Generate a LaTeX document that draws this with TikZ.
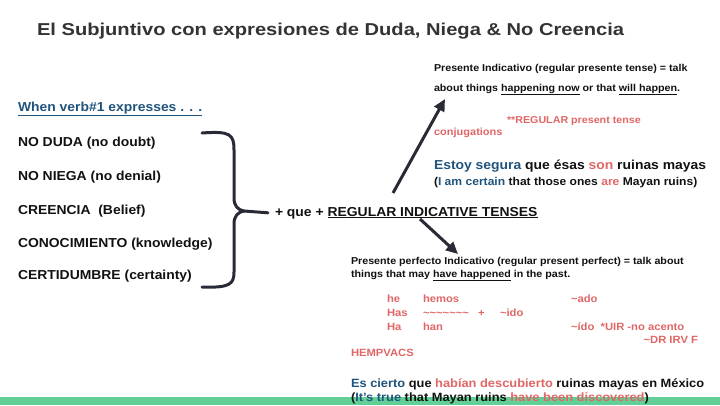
\documentclass[tikz,border=0pt]{standalone}
\usepackage{fontspec}
\setmainfont[FakeStretch=1.07]{Liberation Sans}
\newfontfamily\titlefont[FakeStretch=1.17]{Liberation Sans}
\usetikzlibrary{arrows.meta}
\definecolor{TitleGray}{RGB}{51,51,51}
\definecolor{InkBlack}{RGB}{17,17,17}
\definecolor{SlateBlue}{RGB}{32,84,125}
\definecolor{SoftRed}{RGB}{224,102,102}
\definecolor{BraceInk}{RGB}{40,42,54}
\definecolor{BarGreen}{RGB}{98,208,150}
\newcommand{\tild}{\textasciitilde}
\newcommand{\uln}[1]{\underline{#1}}

\begin{document}
\begin{tikzpicture}[x=1pt, y=-1pt,
    txt/.style={anchor=base west, inner sep=0pt, outer sep=0pt, text=InkBlack},
    item/.style={txt, font=\fontsize{13}{15}\selectfont\bfseries},
    note/.style={txt, font=\fontsize{10}{12}\selectfont\bfseries},
    conj/.style={txt, text=SoftRed, font=\fontsize{10.5}{12}\selectfont\bfseries},
    example/.style={txt, font=\fontsize{12}{14}\selectfont\bfseries},
    brace/.style={draw=BraceInk, line width=3pt, line cap=round, line join=round},
    pointer/.style={draw=BraceInk, line width=3pt, -{Triangle[width=11pt,length=12pt]}}]

  \useasboundingbox (0,0) rectangle (720,405);
  \fill[BarGreen] (0,397) rectangle (720,405);

  % title
  \node[txt, text=TitleGray, font=\titlefont\fontsize{17.2}{20}\selectfont\bfseries] (title) at (37,35)
    {El Subjuntivo con expresiones de Duda, Niega \& No Creencia};

  % presente indicativo
  \node[note] (pres) at (434,71) {Presente Indicativo (regular presente tense) = talk};
  \node[note] (pres2) at (434,91) {about things \uln{happening now} or that \uln{will happen}.};

  % left column
  \node[item, text=SlateBlue] (when) at (18,111) {\uln{When verb\#1 expresses . . .}};
  \node[item] (nodud) at (18,146) {NO DUDA (no doubt)};
  \node[item] (noneg) at (18,180) {NO NIEGA (no denial)};
  \node[item] (creen) at (18,214) {CREENCIA\ \ (Belief)};
  \node[item] (conoc) at (18,247) {CONOCIMIENTO (knowledge)};
  \node[item] (certi) at (18,279) {CERTIDUMBRE (certainty)};

  \draw[brace] (202,133) .. controls (230,131) and (234,134) .. (234,150) -- (234,198)
    .. controls (234,206) and (238,210) .. (244,211) .. controls (238,212) and (234,216) .. (234,224)
    -- (234,272) .. controls (234,284) and (230,288) .. (202,287);
  \coordinate (bracetip) at (244,211);

  \node[item] (que) at (275,216) {+ que + \uln{REGULAR INDICATIVE TENSES}};
  \draw[brace] (bracetip) -- ([xshift=-7pt]que.west);

  % regular present
  \node[note, text=SoftRed] (regnote) at (507,123) {**REGULAR present tense};
  \node[note, text=SoftRed, font=\fontsize{10.3}{12}\selectfont\bfseries] (conjug) at (434,135) {conjugations};
  \node[item] (estoy) at (434,169)
    {\textcolor{SlateBlue}{Estoy segura} que ésas \textcolor{SoftRed}{son} ruinas mayas};
  \node[txt, font=\fontsize{11.3}{13}\selectfont\bfseries] (certain) at (434,185)
    {(\textcolor{SlateBlue}{I am certain} that those ones \textcolor{SoftRed}{are} Mayan ruins)};

  % presente perfecto
  \node[note] (perf) at (351,264) {Presente perfecto Indicativo (regular present perfect) = talk about};
  \node[note] (perf2) at (351,277) {things that may \uln{have happened} in the past.};

  \node[conj] (he) at (387,302) {he};
  \node[conj] (hemos) at (423,302) {hemos};
  \node[conj] (ado) at (571,302) {\tild ado};
  \node[conj] (has) at (387,316) {Has};
  \node[conj] (tildes) at (423,316) {\tild\tild\tild\tild\tild\tild\tild};
  \node[conj] (plus) at (478,316) {+};
  \node[conj] (ido) at (500,316) {\tild ido};
  \node[conj] (ha) at (387,330) {Ha};
  \node[conj] (han) at (423,330) {han};
  \node[conj] (idoacc) at (571,330) {\tild ído\ \ *UIR -no acento};
  \node[conj, anchor=base east] (drirv) at (698,343) {\tild DR IRV F};
  \node[conj] (hemp) at (351,356) {HEMPVACS};

  % example sentence
  \node[example] (escierto) at (351,387)
    {\textcolor{SlateBlue}{Es cierto} que \textcolor{SoftRed}{habían descubierto} ruinas mayas en México};
  \node[example] (estrue) at (351,401)
    {(\textcolor{SlateBlue}{It's true} that Mayan ruins \textcolor{SoftRed}{have been discovered})};

  % arrows
  \coordinate (upfoot) at (393,193);
  \coordinate (uptip) at (445,99);
  \coordinate (downfoot) at (420,219);
  \coordinate (downtip) at (458,254);
  \draw[pointer] (upfoot) -- (uptip);
  \draw[pointer] (downfoot) -- (downtip);
\end{tikzpicture}
\end{document}
